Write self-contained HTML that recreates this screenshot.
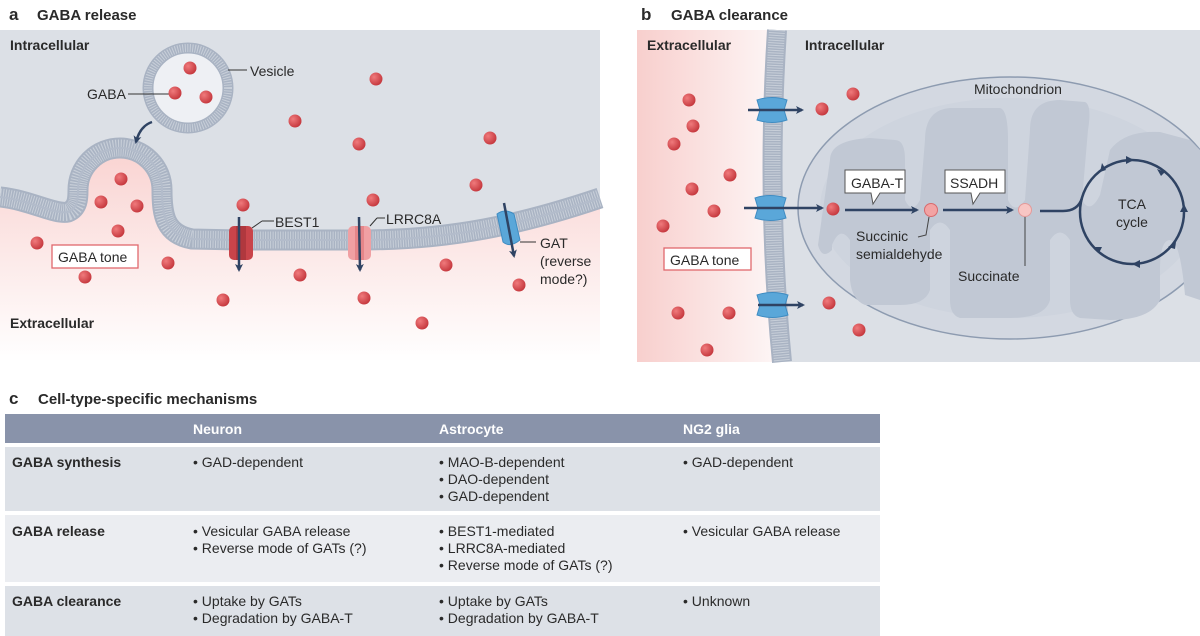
<!DOCTYPE html>
<html><head><meta charset="utf-8"><style>
html,body{margin:0;padding:0;background:#fff}
svg{display:block}
text{font-family:"Liberation Sans",sans-serif;fill:#2a2a2a}
.b{font-weight:bold}
</style></head><body>
<svg width="1200" height="636" viewBox="0 0 1200 636" xmlns="http://www.w3.org/2000/svg">
<defs>
<linearGradient id="pa" x1="0" y1="0" x2="0" y2="1">
<stop offset="0" stop-color="#f9d3d1"/><stop offset="1" stop-color="#ffffff"/></linearGradient>
<linearGradient id="pb" x1="0" y1="0" x2="1" y2="0">
<stop offset="0" stop-color="#f8cfcd"/><stop offset="1" stop-color="#fdf5f5"/></linearGradient>
<radialGradient id="dot" cx="0.35" cy="0.35" r="0.7">
<stop offset="0" stop-color="#f07a7c"/><stop offset="1" stop-color="#c4363c"/></radialGradient>
<marker id="ar" markerWidth="8" markerHeight="8" refX="6" refY="4" orient="auto" markerUnits="userSpaceOnUse">
<path d="M0,0 L8,4 L0,8 L2,4 Z" fill="#2f4363"/></marker>
</defs>

<!-- Panel a -->
<text x="9" y="20" class="b" font-size="17">a</text>
<text x="37" y="20" class="b" font-size="15">GABA release</text>
<rect x="0" y="30" width="600" height="332" fill="#dce0e6"/>
<path d="M0,197 C30,200 55,215 68,212 C78,208 78,198 78,190 A42,42 0 0 1 162,190 C162,215 165,234 192,239 L240,240 L360,240 C450,240 520,225 600,198 L600,362 L0,362 Z" fill="url(#pa)"/>
<g fill="none">
<path id="mem" d="M0,197 C30,200 55,215 68,212 C78,208 78,198 78,190 A42,42 0 0 1 162,190 C162,215 165,234 192,239 L240,240 L360,240 C450,240 520,225 600,198" stroke="#a9b3c3" stroke-width="21"/>
<path d="M0,197 C30,200 55,215 68,212 C78,208 78,198 78,190 A42,42 0 0 1 162,190 C162,215 165,234 192,239 L240,240 L360,240 C450,240 520,225 600,198" stroke="#c8cfd9" stroke-width="17" stroke-dasharray="1 1.5"/>
<path d="M0,197 C30,200 55,215 68,212 C78,208 78,198 78,190 A42,42 0 0 1 162,190 C162,215 165,234 192,239 L240,240 L360,240 C450,240 520,225 600,198" stroke="#b3bccb" stroke-width="2"/>
</g>
<!-- vesicle -->
<circle cx="188" cy="88" r="40" fill="#eef0f4" stroke="#a9b3c3" stroke-width="11"/>
<circle cx="188" cy="88" r="40" fill="none" stroke="#c8cfd9" stroke-width="8" stroke-dasharray="1 1.5"/>
<path d="M152,122 Q140,126 136,142" fill="none" stroke="#2f4363" stroke-width="2.5" marker-end="url(#ar)"/>
<text x="250" y="76" font-size="14">Vesicle</text><line x1="228" y1="70" x2="247" y2="70" stroke="#333"/>
<text x="87" y="99" font-size="14">GABA</text><line x1="128" y1="94" x2="170" y2="94" stroke="#333"/>
<text x="10" y="50" class="b" font-size="14">Intracellular</text>
<text x="10" y="328" class="b" font-size="14">Extracellular</text>
<rect x="52" y="245" width="86" height="23" fill="#fff" stroke="#e0686d" stroke-width="1.3"/>
<text x="58" y="262" font-size="14">GABA tone</text>
<!-- channels -->
<rect x="229" y="226" width="24" height="34" rx="5" fill="#c9444a"/>
<rect x="236" y="226" width="10" height="34" fill="#b0383e"/>
<line x1="239" y1="217" x2="239" y2="270" stroke="#2f4363" stroke-width="2.5" marker-end="url(#ar)"/>
<line x1="252" y1="228" x2="262" y2="221" stroke="#333"/><line x1="262" y1="221" x2="274" y2="221" stroke="#333"/>
<text x="275" y="227" font-size="14">BEST1</text>
<rect x="348" y="226" width="23" height="34" rx="5" fill="#f0a0a3"/>
<rect x="355" y="226" width="9" height="34" fill="#e58589"/>
<line x1="359" y1="217" x2="360" y2="270" stroke="#2f4363" stroke-width="2.5" marker-end="url(#ar)"/>
<line x1="370" y1="226" x2="377" y2="218" stroke="#333"/><line x1="377" y1="218" x2="385" y2="218" stroke="#333"/>
<text x="386" y="224" font-size="14">LRRC8A</text>
<path d="M497,214 Q505,208 514,214 L520,240 Q510,248 503,242 Z" fill="#5aa7d9" stroke="#3f8cc2"/>
<line x1="504" y1="203" x2="514" y2="256" stroke="#2f4363" stroke-width="2.5" marker-end="url(#ar)"/>
<line x1="520" y1="242" x2="536" y2="242" stroke="#333"/>
<text x="540" y="248" font-size="14">GAT</text>
<text x="540" y="266" font-size="14">(reverse</text>
<text x="540" y="284" font-size="14">mode?)</text>
<g fill="url(#dot)">
<circle cx="190" cy="68" r="6.5"/><circle cx="175" cy="93" r="6.5"/><circle cx="206" cy="97" r="6.5"/>
<circle cx="376" cy="79" r="6.5"/><circle cx="295" cy="121" r="6.5"/><circle cx="359" cy="144" r="6.5"/>
<circle cx="490" cy="138" r="6.5"/><circle cx="476" cy="185" r="6.5"/><circle cx="373" cy="200" r="6.5"/>
<circle cx="243" cy="205" r="6.5"/>
<circle cx="121" cy="179" r="6.5"/><circle cx="101" cy="202" r="6.5"/><circle cx="137" cy="206" r="6.5"/><circle cx="118" cy="231" r="6.5"/>
<circle cx="37" cy="243" r="6.5"/><circle cx="85" cy="277" r="6.5"/><circle cx="168" cy="263" r="6.5"/>
<circle cx="223" cy="300" r="6.5"/><circle cx="300" cy="275" r="6.5"/><circle cx="364" cy="298" r="6.5"/>
<circle cx="422" cy="323" r="6.5"/><circle cx="446" cy="265" r="6.5"/><circle cx="519" cy="285" r="6.5"/>
</g>

<!-- Panel b -->
<text x="641" y="20" class="b" font-size="17">b</text>
<text x="671" y="20" class="b" font-size="15">GABA clearance</text>
<rect x="637" y="30" width="563" height="332" fill="#dce0e6"/>
<rect x="637" y="30" width="137" height="332" fill="url(#pb)"/>
<path d="M777,30 Q766,200 782,362" fill="none" stroke="#a9b3c3" stroke-width="20"/>
<path d="M777,30 Q766,200 782,362" fill="none" stroke="#c8cfd9" stroke-width="16" stroke-dasharray="1 1.5"/>
<!-- mitochondrion -->
<ellipse cx="1010" cy="208" rx="212" ry="131" fill="#d3d8e1" stroke="#8d9bb0" stroke-width="1.5"/>
<ellipse cx="1010" cy="208" rx="190" ry="110" fill="#ced4de"/>
<g fill="#c1c8d4">
<path d="M830,160 Q830,140 870,138 L895,140 Q905,140 905,160 L905,200 Q912,215 920,200 L925,140 Q925,110 950,108 L1000,108 Q1008,110 1008,140 L1008,200 Q1015,215 1025,200 L1030,130 Q1030,100 1060,100 L1085,102 Q1092,105 1088,130 L1082,200 Q1090,215 1100,195 L1110,150 Q1125,130 1160,132 L1190,140 L1200,150 L1200,300 L1185,295 Q1180,240 1170,240 Q1160,240 1160,270 L1160,300 Q1150,320 1110,320 L1080,318 Q1070,315 1070,300 L1070,240 Q1060,225 1050,240 L1050,300 Q1045,318 1010,318 L960,318 Q950,315 950,300 L950,230 Q940,215 930,230 L930,290 Q925,305 900,305 L865,305 Q852,300 850,280 L850,240 Q840,225 832,245 L832,250 Q822,260 818,245 Z"/>
</g>
<text x="974" y="94" font-size="14" fill="#333">Mitochondrion</text>
<!-- transporters -->
<g fill="#5aa7d9" stroke="#3f8cc2">
<path d="M757,100 Q772,95 787,100 L784,110 L787,120 Q772,125 757,120 L760,110 Z"/>
<path d="M755,198 Q770,193 786,198 L783,208 L786,218 Q770,223 755,218 L758,208 Z"/>
<path d="M757,295 Q772,290 788,295 L785,305 L788,315 Q772,320 757,315 L760,305 Z"/>
</g>
<line x1="748" y1="110" x2="802" y2="110" stroke="#2f4363" stroke-width="2.5" marker-end="url(#ar)"/>
<line x1="744" y1="208" x2="822" y2="208" stroke="#2f4363" stroke-width="2.5" marker-end="url(#ar)"/>
<line x1="758" y1="305" x2="803" y2="305" stroke="#2f4363" stroke-width="2.5" marker-end="url(#ar)"/>
<text x="647" y="50" class="b" font-size="14">Extracellular</text>
<text x="805" y="50" class="b" font-size="14">Intracellular</text>
<rect x="664" y="248" width="87" height="22" fill="#fff" stroke="#e0686d" stroke-width="1.3"/>
<text x="670" y="265" font-size="14">GABA tone</text>
<g fill="url(#dot)">
<circle cx="689" cy="100" r="6.5"/><circle cx="693" cy="126" r="6.5"/><circle cx="674" cy="144" r="6.5"/>
<circle cx="730" cy="175" r="6.5"/><circle cx="692" cy="189" r="6.5"/><circle cx="714" cy="211" r="6.5"/>
<circle cx="663" cy="226" r="6.5"/><circle cx="678" cy="313" r="6.5"/><circle cx="729" cy="313" r="6.5"/>
<circle cx="707" cy="350" r="6.5"/><circle cx="822" cy="109" r="6.5"/><circle cx="853" cy="94" r="6.5"/>
<circle cx="829" cy="303" r="6.5"/><circle cx="859" cy="330" r="6.5"/><circle cx="833" cy="209" r="6.5"/>
</g>
<circle cx="931" cy="210" r="6.5" fill="#f2a3a3" stroke="#d86a6d"/>
<circle cx="1025" cy="210" r="6.5" fill="#f8c6c4" stroke="#e49a9a"/>
<line x1="845" y1="210" x2="917" y2="210" stroke="#2f4363" stroke-width="2.5" marker-end="url(#ar)"/>
<line x1="943" y1="210" x2="1012" y2="210" stroke="#2f4363" stroke-width="2.5" marker-end="url(#ar)"/>
<path d="M1040,211 L1063,211 Q1078,211 1082,198" fill="none" stroke="#2f4363" stroke-width="2.5"/>
<path d="M845,170 H905 V193 H880 L873,204 L871,193 H845 Z" fill="#fff" stroke="#555"/>
<text x="851" y="188" font-size="14">GABA-T</text>
<path d="M945,170 H1005 V193 H980 L973,204 L971,193 H945 Z" fill="#fff" stroke="#555"/>
<text x="950" y="188" font-size="14">SSADH</text>
<circle cx="1132" cy="212" r="52" fill="none" stroke="#2f4363" stroke-width="2.5"/>
<g fill="#2f4363">
<path d="M1100,172 l2,-9 l4,7 z"/><path d="M1134,160 l-8,-4 v8 z"/><path d="M1165,172 l-8,-3 l4,7 z"/>
<path d="M1184,212 l-4,-8 l-4,8 z" transform="translate(4,0)"/><path d="M1176,242 l-8,5 l7,2 z"/>
<path d="M1132,264 l8,-4 v8 z"/><path d="M1093,247 l9,0 l-3,6 z"/>
</g>
<text x="1132" y="209" font-size="14" text-anchor="middle" fill="#333">TCA</text>
<text x="1132" y="227" font-size="14" text-anchor="middle" fill="#333">cycle</text>
<text x="856" y="241" font-size="14" fill="#333">Succinic</text>
<text x="856" y="259" font-size="14" fill="#333">semialdehyde</text>
<path d="M929,217 L926,235 L918,237" fill="none" stroke="#444"/>
<line x1="1025" y1="217" x2="1025" y2="266" stroke="#444"/>
<text x="958" y="281" font-size="14" fill="#333">Succinate</text>

<!-- Panel c -->
<text x="9" y="404" class="b" font-size="17">c</text>
<text x="38" y="404" class="b" font-size="15">Cell-type-specific mechanisms</text>
<rect x="5" y="414" width="875" height="29" fill="#8993aa"/>
<text x="193" y="434" class="b" font-size="14" style="fill:#fff">Neuron</text>
<text x="439" y="434" class="b" font-size="14" style="fill:#fff">Astrocyte</text>
<text x="683" y="434" class="b" font-size="14" style="fill:#fff">NG2 glia</text>
<rect x="5" y="447" width="875" height="64" fill="#dde1e7"/>
<rect x="5" y="515" width="875" height="67" fill="#ebedf1"/>
<rect x="5" y="586" width="875" height="50" fill="#dde1e7"/>
<g font-size="14">
<text x="12" y="467" class="b">GABA synthesis</text>
<text x="193" y="467">• GAD-dependent</text>
<text x="439" y="467">• MAO-B-dependent</text>
<text x="439" y="484">• DAO-dependent</text>
<text x="439" y="501">• GAD-dependent</text>
<text x="683" y="467">• GAD-dependent</text>
<text x="12" y="536" class="b">GABA release</text>
<text x="193" y="536">• Vesicular GABA release</text>
<text x="193" y="553">• Reverse mode of GATs (?)</text>
<text x="439" y="536">• BEST1-mediated</text>
<text x="439" y="553">• LRRC8A-mediated</text>
<text x="439" y="570">• Reverse mode of GATs (?)</text>
<text x="683" y="536">• Vesicular GABA release</text>
<text x="12" y="606" class="b">GABA clearance</text>
<text x="193" y="606">• Uptake by GATs</text>
<text x="193" y="623">• Degradation by GABA-T</text>
<text x="439" y="606">• Uptake by GATs</text>
<text x="439" y="623">• Degradation by GABA-T</text>
<text x="683" y="606">• Unknown</text>
</g>
</svg>
</body></html>
